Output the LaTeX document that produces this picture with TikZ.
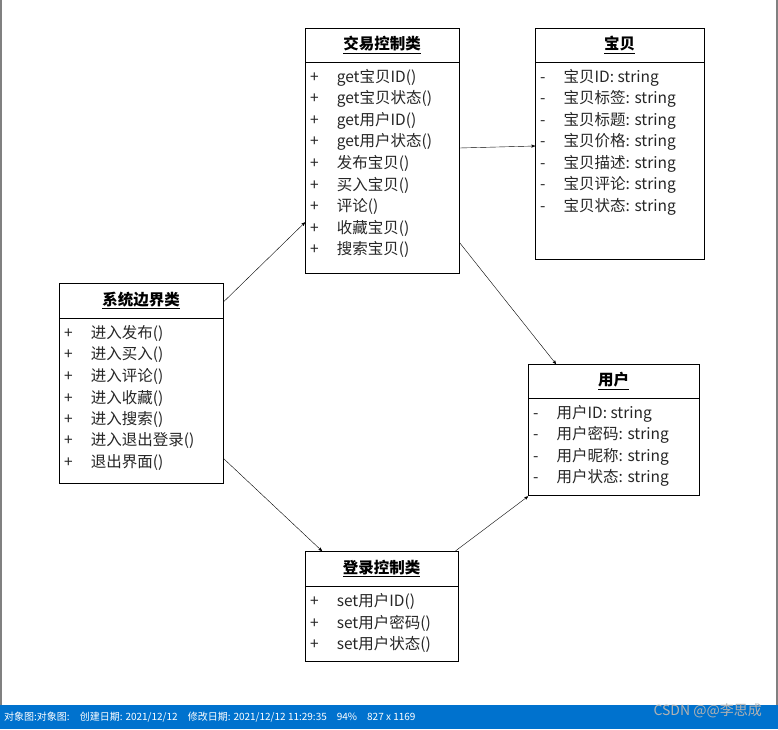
\documentclass[tikz,border=0pt]{standalone}
\usepackage{fontspec}
\setmainfont{Noto Sans CJK SC}
\usetikzlibrary{arrows,positioning,calc}
\definecolor{statusblue}{RGB}{0,114,206}
\tikzset{
    >=stealth',
    %class box
    classbox/.style={draw=black, fill=white, anchor=north west, inner sep=0pt},
    classname/.style={font=\fontsize{15.5}{15.5}\selectfont\bfseries, anchor=center},
    member/.style={font=\fontsize{15.5}{15.5}\selectfont, anchor=west, inner sep=0pt, text=black!85},
    assoc/.style={->, thin}
}
\newcommand{\umlclass}[8]{% name, x, y, w, h, header, title, items
  \node[classbox, minimum width=#4, minimum height=#5] (#1) at (#2,#3) {};
  \draw ($(#1.north west)+(0,#6)$) -- ($(#1.north east)+(0,#6)$);
  \node[classname] (#1-title) at ($(#1.north)+(0,#6/2)$) {\underline{#7}};
  \foreach \sym/\txt [count=\i] in {#8}
    \node[member] (#1-m\i) at ($(#1.north west)+(5,#6+\i*21.5-6)$) {\sym\hspace{18pt}\txt};
}
\begin{document}
\begin{tikzpicture}[x=1pt, y=-1pt]
 \useasboundingbox (0,0) rectangle (778,729);
 \fill[white] (0,0) rectangle (778,729);
 \draw[gray, line width=1.5] (1,0) -- (1,705) (777,0) -- (777,705);
 \fill[statusblue] (0,705) rectangle (778,729);
 \node[anchor=west, text=white, font=\fontsize{10}{10}\selectfont, inner sep=0pt] (status) at (4,717)
   {对象图:对象图:\quad 创建日期: 2021/12/12\quad 修改日期: 2021/12/12 11:29:35\quad 94\%\quad 827 x 1169};
 \node[anchor=east, text=gray!60, font=\fontsize{14}{14}\selectfont, inner sep=0pt] (mark) at (762,711) {CSDN @@李思成};

 \umlclass{trade}{305}{28}{154}{245}{34}{交易控制类}{+/get宝贝ID(), +/get宝贝状态(), +/get用户ID(), +/get用户状态(), +/发布宝贝(), +/买入宝贝(), +/评论(), +/收藏宝贝(), +/搜索宝贝()}
 \umlclass{item}{535}{28}{169}{231}{34}{宝贝}{-/宝贝ID: string, -/宝贝标签: string, -/宝贝标题: string, -/宝贝价格: string, -/宝贝描述: string, -/宝贝评论: string, -/宝贝状态: string}
 \umlclass{sys}{59}{283}{164}{200}{35}{系统边界类}{+/进入发布(), +/进入买入(), +/进入评论(), +/进入收藏(), +/进入搜索(), +/进入退出登录(), +/退出界面()}
 \umlclass{user}{528}{364}{171}{131}{34}{用户}{-/用户ID: string, -/用户密码: string, -/用户昵称: string, -/用户状态: string}
 \umlclass{login}{305}{551}{153}{110}{35}{登录控制类}{+/set用户ID(), +/set用户密码(), +/set用户状态()}

 \draw[assoc] ([yshift=-19]sys.north east) -- ([yshift=51]trade.south west);
 \draw[assoc] ([yshift=-120]trade.north east) -- ([yshift=-118]item.north west);
 \draw[assoc] ([yshift=31]trade.south east) -- ([xshift=28]user.north west);
 \draw[assoc] ([yshift=25]sys.south east) -- ([xshift=17]login.north west);
 \draw[assoc] ([xshift=-3]login.north east) -- ([yshift=-1]user.south west);
\end{tikzpicture}
\end{document}
